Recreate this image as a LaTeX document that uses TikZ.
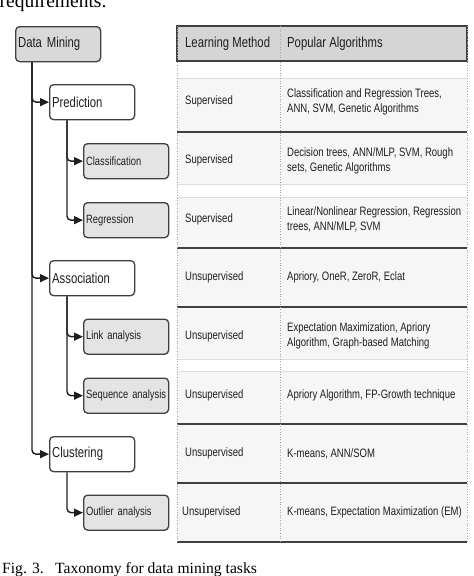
\documentclass[tikz,border=0pt]{standalone}
\usepackage{fontspec}
\setmainfont{Liberation Serif}
\newfontfamily\arialn[FakeStretch=0.78]{Liberation Sans}
\usetikzlibrary{arrows.meta}
\definecolor{boxgrey}{HTML}{E4E4E4}
\definecolor{dmgrey}{HTML}{D9D9D9}
\definecolor{hdrgrey}{HTML}{D5D5D5}
\definecolor{rowgrey}{HTML}{F6F6F6}
\definecolor{linedark}{HTML}{404040}
\definecolor{linelight}{HTML}{DDDDDD}
\definecolor{txt}{HTML}{1E1E1E}
\begin{document}
\begin{tikzpicture}[x=1pt,y=-1pt,
 box/.style={draw=linedark, line width=1.3pt, rounded corners=4pt, minimum height=35pt, text width=80pt, inner xsep=2.5pt, inner ysep=0pt, align=left, anchor=north west, text=txt},
 big/.style={font=\arialn\fontsize{14.5}{17}\selectfont},
 small/.style={font=\arialn\fontsize{12}{14}\selectfont},
 lvlzero/.style={box, big, fill=dmgrey},
 lvlone/.style={box, big, fill=white},
 lvltwo/.style={box, small, fill=boxgrey},
 conn/.style={draw=txt, line width=1.4pt, rounded corners=4pt, -{Triangle[length=9pt,width=8pt]}},
 cell/.style={anchor=west, inner sep=0pt, align=left, text=txt, font=\arialn\fontsize{12.2}{15}\selectfont},
 hdr/.style={anchor=west, inner sep=0pt, text=txt, font=\arialn\fontsize{14.5}{17}\selectfont},
 darkline/.style={draw=linedark, line width=1.1pt},
 lightline/.style={draw=linelight, line width=0.8pt},
 dotv/.style={draw=gray!70, line width=0.6pt, dotted}]

\useasboundingbox (0,0) rectangle (474,576);

% text above and caption
\node[anchor=base west, inner sep=0pt, font=\fontsize{19.5}{22}\selectfont] (req) at (-0.5,7) {requirements.};
\node[anchor=base west, inner sep=0pt, font=\fontsize{15.6}{18}\selectfont] (cap) at (2,573) {\makebox[53pt][l]{Fig. 3.}Taxonomy for data mining tasks};

% ---------- table ----------
\fill[rowgrey] (177,61) rectangle (467,542);
\fill[white] (177,61) rectangle (467,78);
\fill[white] (177,184) rectangle (467,197);
\fill[white] (177,359) rectangle (467,371);
\foreach \yy in {78,184,197,359,371} \draw[lightline] (177,\yy) -- (467,\yy);
\foreach \yy in {132,248,307,424,483,542} \draw[darkline] (177,\yy) -- (467,\yy);
\draw[darkline, fill=hdrgrey] (177,26) rectangle (467,61);
\foreach \xx in {177,280,467} \draw[dotv] (\xx,26) -- (\xx,542);
\draw[linedark, line width=1.7pt] (177,61) -- (467,61);

\node[hdr] (hlm) at (185,43.5) {Learning Method};
\node[hdr] (hpa) at (287,43.5) {Popular Algorithms};

\node[cell] (lma) at (185,101.5) {Supervised};
\node[cell] (lmb) at (185,160.5) {Supervised};
\node[cell] (lmc) at (185,219.5) {Supervised};
\node[cell] (lmd) at (185,277.5) {Unsupervised};
\node[cell] (lme) at (185,336) {Unsupervised};
\node[cell] (lmf) at (185,395) {Unsupervised};
\node[cell] (lmg) at (185,453.5) {Unsupervised};
\node[cell] (lmh) at (182,512) {Unsupervised};

\node[cell] (paa) at (287,101.5) {Classification and Regression Trees,\\ANN, SVM, Genetic Algorithms};
\node[cell] (pab) at (287,160.5) {Decision trees, ANN/MLP, SVM, Rough\\sets, Genetic Algorithms};
\node[cell] (pac) at (287,219.5) {Linear/Nonlinear Regression, Regression\\trees, ANN/MLP, SVM};
\node[cell] (pad) at (287,277.5) {Apriory, OneR, ZeroR, Eclat};
\node[cell] (pae) at (287,336) {Expectation Maximization, Apriory\\Algorithm, Graph-based Matching};
\node[cell] (paf) at (287,395) {Apriory Algorithm, FP-Growth technique};
\node[cell] (pag) at (287,453.5) {K-means, ANN/SOM};
\node[cell] (pah) at (287,512) {K-means, Expectation Maximization (EM)};

% ---------- tree ----------
\node[lvlzero] (dm) at (15,26) {Data Mining};
\node[lvlone] (pred) at (49,84) {Prediction};
\node[lvltwo] (cls) at (83,143) {Classification};
\node[lvltwo] (reg) at (83,202) {Regression};
\node[lvlone] (assoc) at (49,260) {Association};
\node[lvltwo] (link) at (83,318.5) {Link analysis};
\node[lvltwo] (seq) at (83,377.5) {Sequence analysis};
\node[lvlone] (clus) at (49,436) {Clustering};
\node[lvltwo] (out) at (83,494.5) {Outlier analysis};

\draw[conn] ([xshift=17pt]dm.south west) |- (pred.west);
\draw[conn] ([xshift=17pt]dm.south west) |- (assoc.west);
\draw[conn] ([xshift=17pt]dm.south west) |- (clus.west);
\draw[conn] ([xshift=18pt]pred.south west) |- (cls.west);
\draw[conn] ([xshift=18pt]pred.south west) |- (reg.west);
\draw[conn] ([xshift=18pt]assoc.south west) |- (link.west);
\draw[conn] ([xshift=18pt]assoc.south west) |- (seq.west);
\draw[conn] ([xshift=18pt]clus.south west) |- (out.west);
\end{tikzpicture}
\end{document}
